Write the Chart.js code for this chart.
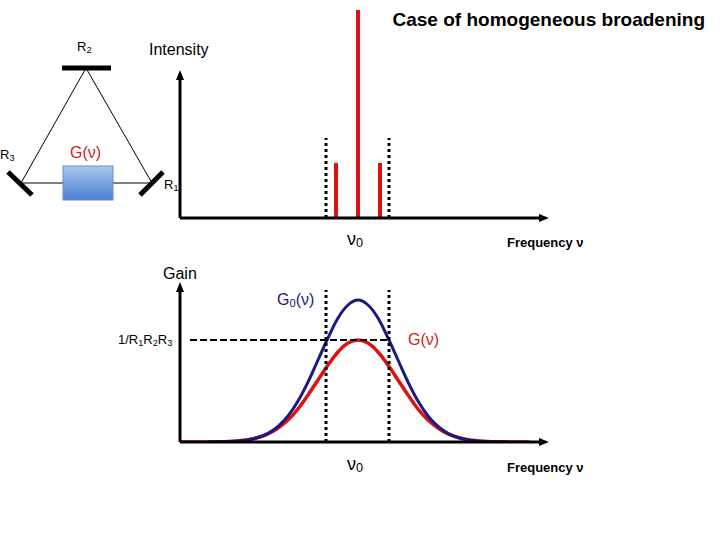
<!DOCTYPE html>
<html><head><meta charset="utf-8">
<script src="https://cdn.jsdelivr.net/npm/chart.js@4"></script>
<style>
body{margin:0;width:720px;height:540px;background:#fff;position:relative;overflow:hidden;font-family:"Liberation Sans",Arial,sans-serif}
.t{position:absolute;white-space:nowrap;line-height:1}
.wrap{position:absolute}
sub{font-size:70%;vertical-align:-2px}
</style></head><body>
<svg width="200" height="220" style="position:absolute;left:0;top:0">
<defs><linearGradient id="g" x1="0" y1="0" x2="0" y2="1"><stop offset="0" stop-color="#a9c8f0"/><stop offset="1" stop-color="#4a7fd0"/></linearGradient></defs>
<line x1="86" y1="68" x2="21" y2="183" stroke="#000" stroke-width="1"/>
<line x1="86" y1="68" x2="152" y2="183" stroke="#000" stroke-width="1"/>
<line x1="21" y1="183" x2="152" y2="183" stroke="#000" stroke-width="1"/>
<line x1="62" y1="68" x2="111" y2="68" stroke="#000" stroke-width="5"/>
<line x1="8" y1="172" x2="32" y2="195" stroke="#000" stroke-width="5"/>
<line x1="140" y1="195" x2="163" y2="172" stroke="#000" stroke-width="5"/>
<rect x="63" y="166" width="50" height="34" fill="url(#g)" stroke="#6d8fc0"/>
</svg>
<div class="t" style="left:77px;top:40px;font-size:13px">R<sub>2</sub></div>
<div class="t" style="left:0px;top:148px;font-size:13px">R<sub>3</sub></div>
<div class="t" style="left:70px;top:145px;font-size:16px;color:#d42020">G(ν)</div>
<div class="t" style="left:164px;top:178px;font-size:13px">R<sub>1</sub></div>
<div class="t" style="right:15px;top:10px;font-size:19px;font-weight:bold">Case of homogeneous broadening</div>
<div class="t" style="left:149px;top:42px;font-size:16px">Intensity</div>
<div class="t" style="left:347px;top:230px;font-size:18px">ν<sub>0</sub></div>
<div class="t" style="left:507px;top:236px;font-size:13px;font-weight:bold">Frequency ν</div>
<div class="t" style="left:163px;top:266px;font-size:16px">Gain</div>
<div class="t" style="left:277px;top:292px;font-size:16px;color:#1a1a80">G<sub>0</sub>(ν)</div>
<div class="t" style="left:118px;top:333px;font-size:13px">1/R<sub>1</sub>R<sub>2</sub>R<sub>3</sub></div>
<div class="t" style="left:408px;top:332px;font-size:16px;color:#d42020">G(ν)</div>
<div class="t" style="left:347px;top:455px;font-size:18px">ν<sub>0</sub></div>
<div class="t" style="left:507px;top:461px;font-size:13px;font-weight:bold">Frequency ν</div>
<div class="wrap" style="left:170px;top:0px;width:385px;height:228px"><canvas id="top"></canvas></div>
<div class="wrap" style="left:170px;top:280px;width:385px;height:172px"><canvas id="bot"></canvas></div>
<script>
// ---- data (frequency offset from ν0, arbitrary units) ----
const modeX = [-22, 0, 22];
const modeH = [55, 208, 55];
const dashX = [-32, 31];
const gainX = [-150,-140,-130,-120,-110,-100,-90,-80,-70,-60,-50,-40,-30,-20,-10,0,10,20,30,40,50,60,70,80,90,100,110,120,130,140,150];
const gainG0 = [0,0.1,0.4,1,2.1,4.5,8.6,15.5,26,41,60,82,104,124,137,142,137,124,104,82,60,41,26,15.5,8.6,4.5,2.1,1,0.4,0.1,0];
const gainG = [0,0.2,0.5,1.1,2.3,4.5,8,14,22,33,47,62,77,90,99,102,99,90,77,62,47,33,22,14,8,4.5,2.3,1.1,0.5,0.2,0];
const redTail = [-178, 172];
const threshold = 102;
const thrX = [-168, 31];

const RED = '#e01010', BLUE = '#1a1a80';

const arrowAxes = {
  id: 'arrowAxes',
  afterDatasetsDraw(c, args, o) {
    const a = c.chartArea, ctx = c.ctx;
    ctx.save();
    ctx.strokeStyle = '#000'; ctx.fillStyle = '#000'; ctx.lineWidth = 3;
    ctx.beginPath(); ctx.moveTo(a.left, a.bottom); ctx.lineTo(a.left, a.top + o.yTop); ctx.stroke();
    ctx.beginPath(); ctx.moveTo(a.left, a.bottom); ctx.lineTo(a.right - 4, a.bottom); ctx.stroke();
    ctx.beginPath(); ctx.moveTo(a.left, a.top + o.yTop - 8); ctx.lineTo(a.left - 4, a.top + o.yTop + 2); ctx.lineTo(a.left + 4, a.top + o.yTop + 2); ctx.fill();
    ctx.beginPath(); ctx.moveTo(a.right + 4, a.bottom); ctx.lineTo(a.right - 6, a.bottom - 4); ctx.lineTo(a.right - 6, a.bottom + 4); ctx.fill();
    ctx.restore();
  }
};

function baseOpts(ymax, yTop) {
  return {
    responsive: true, maintainAspectRatio: false, animation: false,
    layout: { padding: { left: 10, right: 10, top: 5, bottom: 10 } },
    plugins: { legend: { display: false }, tooltip: { enabled: false }, arrowAxes: { yTop } },
    scales: {
      x: { type: 'linear', min: -178, max: 187, display: false },
      y: { min: 0, max: ymax, display: false }
    }
  };
}

// top: cavity modes
const topSets = [];
dashX.forEach(x => topSets.push({ data: [{x, y: 0}, {x, y: 80}], borderColor: '#000', borderWidth: 3, borderDash: [3, 3], pointRadius: 0, showLine: true }));
modeX.forEach((x, i) => topSets.push({ data: [{x, y: 0}, {x, y: modeH[i]}], borderColor: RED, borderWidth: 4, pointRadius: 0, showLine: true }));
new Chart(document.getElementById('top'), {
  type: 'scatter', data: { datasets: topSets },
  options: baseOpts(213, 73), plugins: [arrowAxes]
});

// bottom: gain curves
const botSets = [];
dashX.forEach(x => botSets.push({ data: [{x, y: 0}, {x, y: 152}], borderColor: '#000', borderWidth: 3, borderDash: [3, 3], pointRadius: 0, showLine: true }));
botSets.push({ data: thrX.map(x => ({x, y: threshold})), borderColor: '#000', borderWidth: 2, borderDash: [7, 3], pointRadius: 0, showLine: true });
botSets.push({ data: gainX.map((x, i) => ({x, y: gainG0[i]})), borderColor: BLUE, borderWidth: 3, pointRadius: 0, showLine: true, tension: 0.4 });
botSets.push({ data: [{x: redTail[0], y: 0}].concat(gainX.map((x, i) => ({x, y: gainG[i]})), [{x: redTail[1], y: 0}]), borderColor: RED, borderWidth: 3.5, pointRadius: 0, showLine: true, tension: 0.4 });
new Chart(document.getElementById('bot'), {
  type: 'scatter', data: { datasets: botSets },
  options: baseOpts(157, 5), plugins: [arrowAxes]
});
</script>
</body></html>
